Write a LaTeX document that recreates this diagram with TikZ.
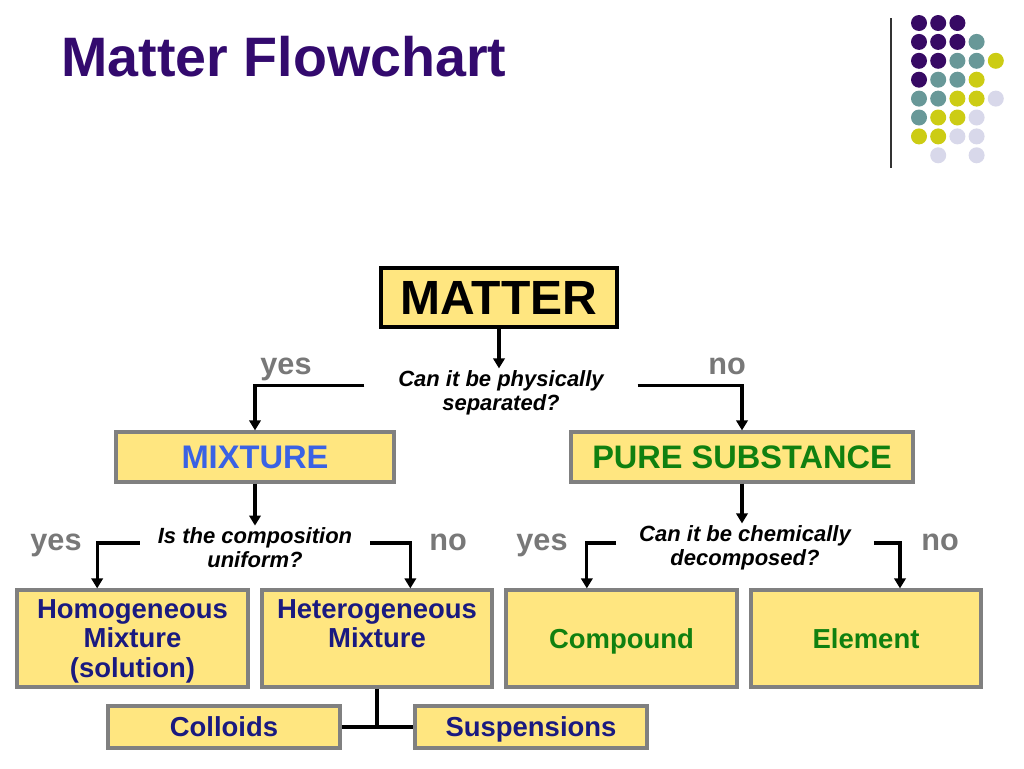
\documentclass[tikz,border=0pt]{standalone}
\usepackage{fontspec}
\setmainfont{Liberation Sans}
\usetikzlibrary{arrows.meta}

\definecolor{boxfill}{RGB}{255,230,128}
\definecolor{boxline}{RGB}{128,128,128}
\definecolor{titlepurple}{RGB}{51,10,110}
\definecolor{dotpurple}{RGB}{55,10,100}
\definecolor{dotteal}{RGB}{104,152,152}
\definecolor{dotyellow}{RGB}{204,204,20}
\definecolor{dotlilac}{RGB}{216,216,234}
\definecolor{answergray}{RGB}{120,120,120}
\definecolor{mixblue}{RGB}{58,98,228}
\definecolor{puregreen}{RGB}{16,128,16}
\definecolor{kindnavy}{RGB}{26,26,128}

\tikzset{every picture/.style={line width=0.75pt},
  flowbox/.style={draw=boxline, fill=boxfill, line width=2.4pt, inner sep=0pt, text depth=0pt, align=center, font=\bfseries\fontsize{20.6}{22.2}\selectfont},
  question/.style={inner ysep=1pt, align=center, font=\bfseries\itshape\fontsize{16.5}{18}\selectfont},
  answer/.style={anchor=base, inner sep=0pt, text=answergray, font=\bfseries\fontsize{23}{26}\selectfont},
  flowarrow/.style={line width=2.3pt, -{Triangle[length=7.5pt,width=8.5pt]}},
  flowline/.style={line width=2.3pt}
}

\begin{document}
\begin{tikzpicture}[x=0.75pt,y=0.75pt,yscale=-1,xscale=1]
\useasboundingbox (0,0) rectangle (1024,768);

% Text Node
\node (title) [anchor=base west, inner sep=0pt, text=titlepurple, font=\bfseries\fontsize{41.7}{48}\selectfont] at (61,76) {Matter Flowchart};

%Straight Lines
\draw [color=black!80, line width=0.9pt] (891,18) -- (891,168) ;

%Shape: Circles
\foreach \c/\r in {0/0,1/0,2/0,0/1,1/1,2/1,0/2,1/2,0/3}
  \fill [dotpurple] (919+19.2*\c, 23+18.9*\r) circle [radius=8];
\foreach \c/\r in {3/1,2/2,3/2,1/3,2/3,0/4,1/4,0/5}
  \fill [dotteal] (919+19.2*\c, 23+18.9*\r) circle [radius=8];
\foreach \c/\r in {4/2,3/3,2/4,3/4,1/5,2/5,0/6,1/6}
  \fill [dotyellow] (919+19.2*\c, 23+18.9*\r) circle [radius=8];
\foreach \c/\r in {4/4,3/5,2/6,3/6,1/7,3/7}
  \fill [dotlilac] (919+19.2*\c, 23+18.9*\r) circle [radius=8];

%Shape: Rectangle
\node (matter) [flowbox, draw=black, minimum width=177pt, minimum height=44.25pt, font=\bfseries\fontsize{36}{40}\selectfont] at (499,297.5) {MATTER};
\node (mixture) [flowbox, text=mixblue, minimum width=208.5pt, minimum height=37.5pt, font=\bfseries\fontsize{24.5}{28}\selectfont] at (255,457) {MIXTURE};
\node (pure) [flowbox, text=puregreen, minimum width=256.5pt, minimum height=37.5pt, font=\bfseries\fontsize{24.4}{28}\selectfont] at (742,457) {PURE SUBSTANCE};
\node (homo) [flowbox, text=kindnavy, minimum width=173.25pt, minimum height=72.75pt] at (132.5,638.5) {Homogeneous\\Mixture\\(solution)};
\node (hetero) [flowbox, text=kindnavy, minimum width=172.5pt, minimum height=72.75pt] at (377,638.5) {Heterogeneous\\Mixture\\~};
\node (compound) [flowbox, text=puregreen, minimum width=173.25pt, minimum height=72.75pt] at (621.5,638.5) {Compound};
\node (element) [flowbox, text=puregreen, minimum width=172.5pt, minimum height=72.75pt] at (866,638.5) {Element};
\node (colloids) [flowbox, text=kindnavy, minimum width=174pt, minimum height=31.5pt] at (224,727) {Colloids};
\node (susp) [flowbox, text=kindnavy, minimum width=174pt, minimum height=31.5pt] at (531,727) {Suspensions};

% Text Node
\node (physq) [question, inner xsep=25pt] at (501,392.5) {Can it be physically\\separated?};
\node (unifq) [question, inner xsep=13pt] at (255,547.5) {Is the composition\\uniform?};
\node (chemq) [question, inner xsep=17pt] at (745,547.5) {Can it be chemically\\decomposed?};

% Text Node
\node (yesphys) [answer] at (286,374) {yes};
\node (nophys) [answer] at (727,374) {no};
\node (yesunif) [answer] at (56,550) {yes};
\node (nounif) [answer] at (448,550) {no};
\node (yeschem) [answer] at (542,550) {yes};
\node (nochem) [answer] at (940,550) {no};

%Straight Lines
\draw [flowarrow] (matter.south) -- (matter.south |- physq.north) ;
\draw [flowarrow] ([yshift=-5.6pt]physq.west) -| (mixture.north) ;
\draw [flowarrow] ([yshift=-5.6pt]physq.east) -| (pure.north) ;
\draw [flowarrow] (mixture.south) -- (mixture.south |- unifq.north) ;
\draw [flowarrow] (pure.south) -- (pure.south |- chemq.north) ;
\draw [flowarrow] ([yshift=-3.4pt]unifq.west) -| ([xshift=-26.5pt]homo.north) ;
\draw [flowarrow] ([yshift=-3.4pt]unifq.east) -| ([xshift=25pt]hetero.north) ;
\draw [flowarrow] ([yshift=-3.4pt]chemq.west) -| ([xshift=-26pt]compound.north) ;
\draw [flowarrow] ([yshift=-3.4pt]chemq.east) -| ([xshift=25.5pt]element.north) ;
\draw [flowline] (colloids.east) -- (susp.west) ;
\draw [flowline] (hetero.south) -- (hetero.south |- colloids.east) ;

\end{tikzpicture}
\end{document}
